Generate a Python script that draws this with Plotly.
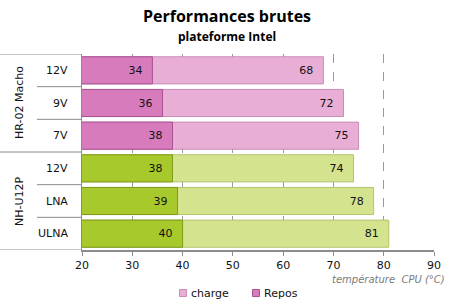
import plotly.graph_objects as go

# ---- data ----
groups = ["HR-02 Macho", "HR-02 Macho", "HR-02 Macho", "NH-U12P", "NH-U12P", "NH-U12P"]
settings = ["12V", "9V", "7V", "12V", "LNA", "ULNA"]
charge = [68, 72, 75, 74, 78, 81]
repos = [34, 36, 38, 38, 39, 40]
x_ticks = [20, 30, 40, 50, 60, 70, 80, 90]
series_names = ["charge", "Repos"]

charge_colors = ["#E9AED6"] * 3 + ["#D4E38E"] * 3
repos_colors = ["#D77BBD"] * 3 + ["#A8C92C"] * 3
charge_line = ["#C98DB8"] * 3 + ["#B3C46C"] * 3
repos_line = ["#A8528F"] * 3 + ["#7F9A1C"] * 3

ids = [f"{g}|{s}" for g, s in zip(groups, settings)]

W, H = 454, 303
L, R, T, B = 82, 20, 54, 53
PW = W - L - R
PH = H - T - B

def px(xp):
    return (xp - L) / PW

def py(yp):
    return 1 - (yp - T) / PH

fig = go.Figure()
fig.add_trace(go.Bar(
    y=ids, x=charge, orientation="h", name=series_names[0],
    marker=dict(color=charge_colors, line=dict(color=charge_line, width=1)),
    text=charge, texttemplate="%{text}\u00a0\u00a0", textposition="inside", insidetextanchor="end",
    textfont=dict(family="DejaVu Sans", size=11, color="#111111"),
    showlegend=False,
))
fig.add_trace(go.Bar(
    y=ids, x=repos, orientation="h", name=series_names[1],
    marker=dict(color=repos_colors, line=dict(color=repos_line, width=1)),
    text=repos, texttemplate="%{text}\u00a0\u00a0", textposition="inside", insidetextanchor="end",
    textfont=dict(family="DejaVu Sans", size=11, color="#111111"),
    showlegend=False,
))

annotations = []
shapes = []
# sub-category labels
for i, s in enumerate(settings):
    annotations.append(dict(x=px(70), xref="paper", y=ids[i], yref="y", text=s,
                            showarrow=False, xanchor="right", yanchor="middle",
                            font=dict(family="DejaVu Sans", size=11, color="#111111")))
# group labels and dividers
seen = []
for g in groups:
    if g not in seen:
        seen.append(g)
for g in seen:
    idx = [i for i, gg in enumerate(groups) if gg == g]
    mid = (idx[0] + idx[-1]) / 2
    annotations.append(dict(x=px(19), xref="paper", y=mid, yref="y", text=g,
                            showarrow=False, textangle=-90, xanchor="center", yanchor="middle",
                            font=dict(family="DejaVu Sans", size=11, color="#111111")))
    shapes.append(dict(type="line", xref="paper", yref="y", x0=px(0), x1=0,
                       y0=idx[0] - 0.5, y1=idx[0] - 0.5, line=dict(color="#8a8a8a", width=1)))
    for k in idx[1:]:
        shapes.append(dict(type="line", xref="paper", yref="y", x0=px(37), x1=0,
                           y0=k - 0.5, y1=k - 0.5, line=dict(color="#8a8a8a", width=1)))
shapes.append(dict(type="line", xref="paper", yref="y", x0=px(0), x1=0,
                   y0=len(ids) - 0.5, y1=len(ids) - 0.5, line=dict(color="#8a8a8a", width=1)))

# axis title
annotations.append(dict(x=px(447), xref="paper", y=py(279), yref="paper",
                        text="température  CPU (°C)", showarrow=False, xanchor="right", yanchor="middle",
                        font=dict(family="DejaVu Sans", size=10, color="#7a7a7a", style="italic")))
# titles
annotations.append(dict(x=px(227), xref="paper", y=py(16), yref="paper", text="<b>Performances brutes</b>",
                        showarrow=False, xanchor="center", yanchor="middle",
                        font=dict(family="Open Sans", size=16, color="#000000")))
annotations.append(dict(x=px(227), xref="paper", y=py(36), yref="paper", text="<b>plateforme Intel</b>",
                        showarrow=False, xanchor="center", yanchor="middle",
                        font=dict(family="Open Sans", size=12, color="#000000")))

# legend (drawn manually for compact symbols)
leg = [(series_names[0], 183, "#E9AED6", "#C98DB8"), (series_names[1], 256, "#D77BBD", "#A8528F")]
for name, lx, col, lcol in leg:
    shapes.append(dict(type="rect", xref="paper", yref="paper",
                       x0=px(lx - 3.5), x1=px(lx + 3.5), y0=py(293 + 3.5), y1=py(293 - 3.5),
                       fillcolor=col, line=dict(color=lcol, width=1)))
    annotations.append(dict(x=px(lx + 6), xref="paper", y=py(293), yref="paper", text=name,
                            showarrow=False, xanchor="left", yanchor="middle",
                            font=dict(family="DejaVu Sans", size=11, color="#111111")))

fig.update_layout(
    width=W, height=H,
    margin=dict(l=L, r=R, t=T, b=B, autoexpand=False),
    paper_bgcolor="white", plot_bgcolor="white",
    barmode="overlay", bargap=0.17,
    showlegend=False,
    xaxis=dict(range=[20, 90], tickvals=x_ticks, showgrid=True, gridcolor="#9a9a9a",
               griddash="dash", gridwidth=1, showline=True, linecolor="#8c8c8c", linewidth=2,
               ticks="outside", ticklen=4, tickcolor="#8c8c8c", zeroline=False,
               tickfont=dict(family="DejaVu Sans", size=11, color="#111111")),
    yaxis=dict(type="category", categoryarray=ids, range=[len(ids) - 0.5, -0.5],
               showticklabels=False, showline=True, linecolor="#8a8a8a", linewidth=1,
               showgrid=False, ticks=""),
    annotations=annotations, shapes=shapes,
)

fig.write_html("out.html")
